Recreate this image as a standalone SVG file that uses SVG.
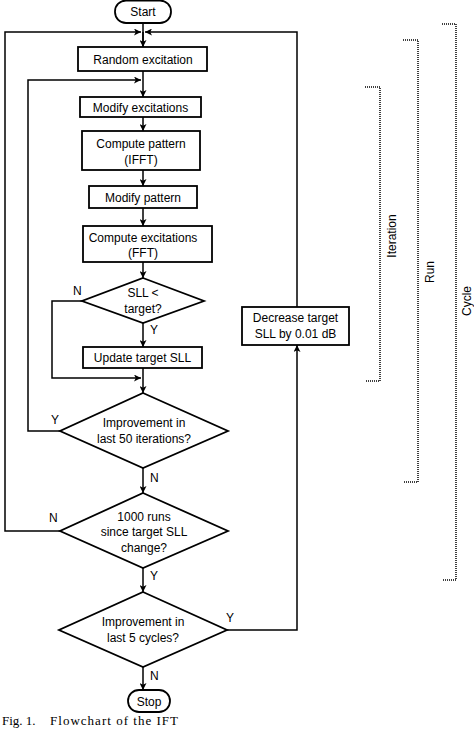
<svg xmlns="http://www.w3.org/2000/svg" width="474" height="729" viewBox="0 0 474 729">
<defs>
<marker id="arr" viewBox="0 0 10 10" refX="10" refY="5" markerWidth="7" markerHeight="7" markerUnits="userSpaceOnUse" orient="auto">
<path d="M0,0 L10,5 L0,10 L2.5,5 Z" fill="#000"/>
</marker>
<style>
.box{fill:#fff;stroke:#000;stroke-width:1.8}
.t{font-family:"Liberation Sans",Arial,sans-serif;font-size:12px;fill:#000;text-anchor:middle}
.lb{font-family:"Liberation Sans",Arial,sans-serif;font-size:12px;fill:#000}
.c{fill:none;stroke:#000;stroke-width:1.5}
.d{fill:none;stroke:#000;stroke-width:1.5;stroke-dasharray:1,1}
</style>
</defs>
<rect width="474" height="729" fill="#fff"/>
<g id="connectors">
<path class="c" d="M143,23 V47" marker-end="url(#arr)"/>
<path class="c" d="M60,531 H5 V32 H141" marker-end="url(#arr)"/>
<path class="c" d="M297,307 V32 H145" marker-end="url(#arr)"/>
<path class="c" d="M143,32 V47"/>
<path class="c" d="M143,71 V97" marker-end="url(#arr)"/>
<path class="c" d="M60,431 H28 V80 H141" marker-end="url(#arr)"/>
<path class="c" d="M143,117 V131" marker-end="url(#arr)"/>
<path class="c" d="M143,170 V186" marker-end="url(#arr)"/>
<path class="c" d="M143,208 V226" marker-end="url(#arr)"/>
<path class="c" d="M143,262 V278" marker-end="url(#arr)"/>
<path class="c" d="M143,323 V347" marker-end="url(#arr)"/>
<path class="c" d="M82,301 H52 V378 H141" marker-end="url(#arr)"/>
<path class="c" d="M143,368 V393" marker-end="url(#arr)"/>
<path class="c" d="M143,468 V493" marker-end="url(#arr)"/>
<path class="c" d="M143,568 V592" marker-end="url(#arr)"/>
<path class="c" d="M227,630 H297 V345" marker-end="url(#arr)"/>
<path class="c" d="M143,667 V690" marker-end="url(#arr)"/>
<text class="lb" x="73" y="295">N</text>
<text class="lb" x="150" y="334">Y</text>
<text class="lb" x="51" y="424">Y</text>
<text class="lb" x="150" y="482">N</text>
<text class="lb" x="49" y="522">N</text>
<text class="lb" x="150" y="580">Y</text>
<text class="lb" x="226" y="622">Y</text>
<text class="lb" x="150" y="680">N</text>
</g>
<g id="start"><rect class="box" x="115" y="0.5" width="56" height="22.5" rx="11"/><text class="t" x="143" y="16">Start</text></g>
<g id="random"><rect class="box" x="78" y="47" width="129" height="24"/><text class="t" x="143" y="63.5">Random excitation</text></g>
<g id="modexc"><rect class="box" x="80" y="97" width="121" height="20"/><text class="t" x="140.5" y="111.5">Modify excitations</text></g>
<g id="comppat"><rect class="box" x="82" y="131" width="118" height="39"/><text class="t" x="141" y="148">Compute pattern</text><text class="t" x="141" y="164">(IFFT)</text></g>
<g id="modpat"><rect class="box" x="89" y="186" width="108" height="22"/><text class="t" x="143" y="201.5">Modify pattern</text></g>
<g id="compexc"><rect class="box" x="83" y="226" width="129" height="36"/><text class="t" x="143" y="241.5">Compute excitations</text><text class="t" x="143" y="257">(FFT)</text></g>
<g id="sll"><polygon class="box" points="143,278 204,301 143,323 82,301"/><text class="t" x="143" y="297">SLL &lt;</text><text class="t" x="143" y="313">target?</text></g>
<g id="update"><rect class="box" x="83" y="347" width="119" height="21"/><text class="t" x="142.5" y="362">Update target SLL</text></g>
<g id="imp50"><polygon class="box" points="143,393 228,431 143,468 60,431"/><text class="t" x="144" y="427">Improvement in</text><text class="t" x="144" y="443">last 50 iterations?</text></g>
<g id="runs"><polygon class="box" points="143,493 228,531 143,568 60,531"/><text class="t" x="144" y="521">1000 runs</text><text class="t" x="144" y="536">since target SLL</text><text class="t" x="144" y="552">change?</text></g>
<g id="imp5"><polygon class="box" points="143,592 227,630 143,667 59,630"/><text class="t" x="143" y="626">Improvement in</text><text class="t" x="143" y="642">last 5 cycles?</text></g>
<g id="stop"><rect class="box" x="128" y="690" width="42" height="22" rx="11"/><text class="t" x="149" y="705.5">Stop</text></g>
<g id="decrease"><rect class="box" x="242" y="307" width="107" height="38"/><text class="t" x="295.5" y="322">Decrease target</text><text class="t" x="295.5" y="338">SLL by 0.01 dB</text></g>
<g id="brackets">
<path class="d" d="M365,87 H380 V381 H365"/>
<path class="d" d="M403,40 H418 V482 H403"/>
<path class="d" d="M442,24 H456 V580 H442"/>
<text class="t" transform="translate(396,236) rotate(-90)">Iteration</text>
<text class="t" transform="translate(434,272) rotate(-90)">Run</text>
<text class="t" transform="translate(471,301) rotate(-90)">Cycle</text>
</g>
<text x="2" y="725" font-family="'Liberation Serif',serif" font-size="13" fill="#000">Fig. 1.<tspan x="50" textLength="128" lengthAdjust="spacing">Flowchart of the IFT</tspan></text>
</svg>
